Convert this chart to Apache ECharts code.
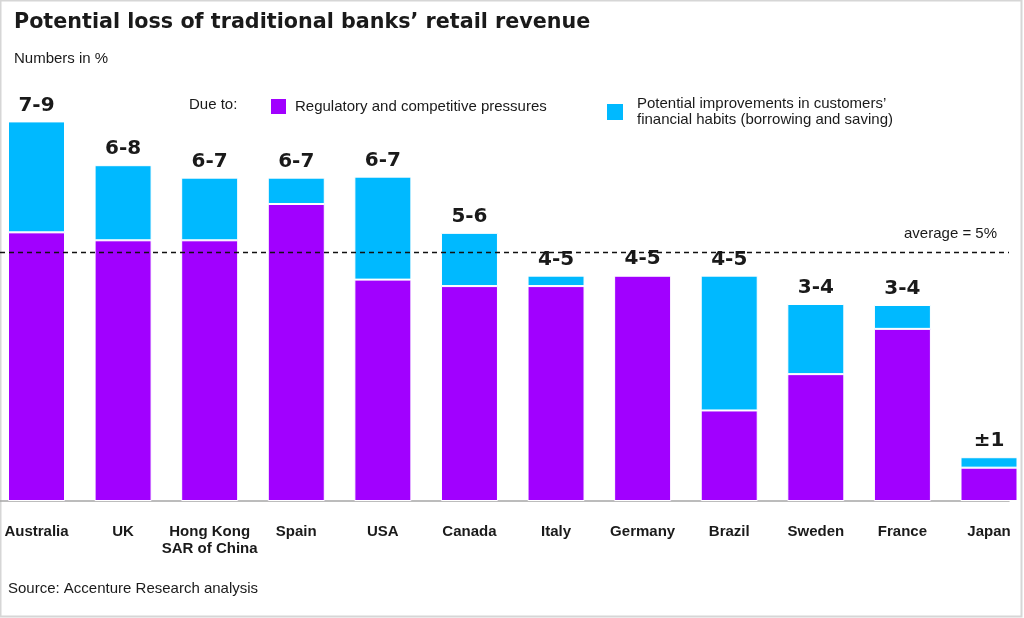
<!DOCTYPE html>
<html>
<head>
<meta charset="utf-8">
<title>Potential loss of traditional banks' retail revenue</title>
<script src="https://cdn.jsdelivr.net/npm/echarts@6/dist/echarts.min.js"></script>
<style>
    html, body { margin: 0; padding: 0; background: #fff; }
    #lossChart { width: 1024px; height: 618px; }
</style>
</head>
<body>
<div id="lossChart"></div>
<script>
var countries = ['Australia', 'UK', 'Hong Kong\nSAR of China', 'Spain', 'USA', 'Canada', 'Italy', 'Germany', 'Brazil', 'Sweden', 'France', 'Japan'];
var regulatory = [5.40, 5.24, 5.24, 5.97, 4.45, 4.32, 4.32, 4.53, 1.82, 2.55, 3.46, 0.67];
var habits = [2.23, 1.51, 1.26, 0.53, 2.07, 1.07, 0.21, 0, 2.71, 1.41, 0.48, 0.21];
var rangeLabels = ['7-9', '6-8', '6-7', '6-7', '6-7', '5-6', '4-5', '4-5', '4-5', '3-4', '3-4', '±1'];
var seriesNames = ['Regulatory and competitive pressures', 'Potential improvements in customers’ financial habits (borrowing and saving)'];
var average = 5;

initLossChart();

function initLossChart() {
    var dom = document.getElementById('lossChart');
    var myChart = echarts.init(dom, null, { renderer: 'canvas' });
    var textColor = '#1a1a1a';
    var font = 'Liberation Sans, Arial, sans-serif';

    var option = {
        animation: false,
        backgroundColor: '#fff',
        textStyle: { fontFamily: font, color: textColor },
        graphic: [
            {
                type: 'rect',
                shape: { x: 0.5, y: 0.5, width: 1021, height: 616 },
                style: { fill: 'none', stroke: '#d6d6d6', lineWidth: 2 },
                silent: true
            },
            {
                type: 'text', left: 14, top: 12,
                style: {
                    text: 'Potential loss of traditional banks’ retail revenue',
                    font: 'bold 20.7px "DejaVu Sans", sans-serif',
                    fill: textColor
                }
            },
            {
                type: 'text', left: 14, top: 51,
                style: { text: 'Numbers in %', font: '15px ' + font, fill: textColor }
            },
            {
                type: 'text', left: 189, top: 97,
                style: { text: 'Due to:', font: '15px ' + font, fill: textColor }
            },
            {
                type: 'text', right: 27, top: 226,
                style: { text: 'average = ' + average + '%', font: '15px ' + font, fill: textColor }
            },
            {
                type: 'text', left: 8, top: 581,
                style: { text: 'Source: Accenture Research analysis', font: '15px ' + font, fill: textColor }
            }
        ],
        legend: [
            {
                data: [seriesNames[0]],
                left: 269, top: 97,
                padding: 0,
                itemWidth: 17, itemHeight: 17,
                icon: 'rect',
                selectedMode: false,
                textStyle: { fontSize: 15, color: textColor, padding: [0, 0, 0, 3] }
            },
            {
                data: [seriesNames[1]],
                left: 605, top: 96,
                padding: 0,
                itemWidth: 18, itemHeight: 18,
                icon: 'rect',
                selectedMode: false,
                formatter: function (name) {
                    return name.replace('customers’ ', 'customers’\n');
                },
                textStyle: { fontSize: 15, lineHeight: 16, color: textColor, padding: [0, 0, 0, 8] }
            }
        ],
        grid: [
            { left: 36.5, right: 35, top: 103, bottom: 117 },
            { left: 0, right: 15, top: 103, bottom: 117 }
        ],
        xAxis: [
            {
                type: 'category',
                gridIndex: 0,
                data: countries,
                boundaryGap: false,
                axisLine: { show: false },
                axisTick: { show: false },
                axisLabel: {
                    interval: 0,
                    margin: 22,
                    fontSize: 15,
                    fontWeight: 'bold',
                    lineHeight: 17,
                    color: textColor,
                    fontFamily: font
                }
            },
            {
                // only the base line under the bars
                type: 'value',
                gridIndex: 1,
                min: 0,
                max: 1,
                axisLine: { show: true, lineStyle: { color: '#a6a6a6', width: 1.5 } },
                axisTick: { show: false },
                axisLabel: { show: false },
                splitLine: { show: false }
            }
        ],
        yAxis: [
            { type: 'value', gridIndex: 0, min: 0, max: 8, show: false },
            { type: 'value', gridIndex: 1, min: 0, max: 8, show: false }
        ],
        series: [
            {
                name: seriesNames[0],
                type: 'bar',
                stack: 'loss',
                barWidth: 57,
                data: regulatory,
                itemStyle: { color: '#a100ff', borderColor: '#fff', borderWidth: 1 }
            },
            {
                name: seriesNames[1],
                type: 'bar',
                stack: 'loss',
                barWidth: 57,
                data: habits,
                itemStyle: { color: '#00b9ff', borderColor: '#fff', borderWidth: 1 },
                label: {
                    show: true,
                    position: 'top',
                    distance: 6,
                    formatter: function (p) {
                        return rangeLabels[p.dataIndex];
                    },
                    fontFamily: 'DejaVu Sans, sans-serif',
                    fontWeight: 'bold',
                    fontSize: 20,
                    color: textColor
                }
            },
            {
                // average line across the full width
                type: 'line',
                xAxisIndex: 1,
                yAxisIndex: 1,
                data: [],
                markLine: {
                    silent: true,
                    symbol: 'none',
                    label: { show: false },
                    lineStyle: { color: '#111', type: [5, 4], width: 1.3 },
                    data: [{ yAxis: average }]
                }
            }
        ]
    };

    if (option && typeof option === 'object') {
        myChart.setOption(option);
        window.addEventListener('resize', function () {
            myChart.resize();
        });
    }
}
</script>
</body>
</html>
